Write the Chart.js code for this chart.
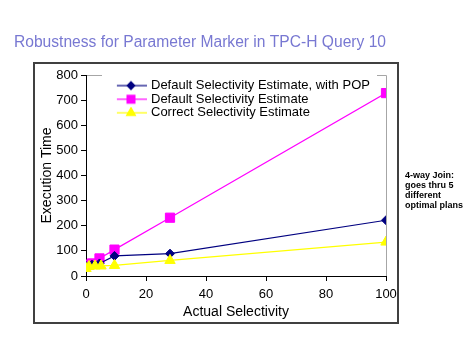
<!DOCTYPE html>
<html><head><meta charset="utf-8">
<script src="https://cdn.jsdelivr.net/npm/chart.js@4.4.1/dist/chart.umd.min.js"></script>
<style>html,body{margin:0;padding:0;background:#fff;overflow:hidden}#wrap{width:474px;height:355px;position:relative}</style>
</head><body><div id="wrap"><canvas id="c" width="474" height="355"></canvas></div>
<script>
const titleText = 'Robustness for Parameter Marker in TPC-H Query 10';
const xTitle = 'Actual Selectivity';
const yTitle = 'Execution Time';
const seriesNames = ['Default Selectivity Estimate, with POP', 'Default Selectivity Estimate', 'Correct Selectivity Estimate'];
const popX = [0, 2, 4.5, 9.5, 28, 100];
const popY = [40, 45, 50, 80, 89, 222];
const defX = [0, 2, 4.5, 9.5, 28, 100];
const defY = [45, 50, 70, 105, 232, 728];
const corX = [0, 1, 3, 5, 9.5, 28, 100];
const corY = [30, 38, 40, 40, 42, 62, 135];
const xTickStep = 20, xMin = 0, xMax = 100;
const yTickStep = 100, yMin = 0, yMax = 800;
const noteLines = ['4-way Join:', 'goes thru 5', 'different', 'optimal plans'];

const FONT = 'Liberation Sans, Arial, Helvetica, sans-serif';
const colors = ['#000080', '#ff00ff', '#ffff00'];
const styles = ['rectRot', 'rect', 'triangle'];
const radii = [4.5, 6.5, 6];

function pts(xs, ys) { return xs.map((x, i) => ({x: x, y: ys[i]})); }

function legendImage(i) {
  const cv = document.createElement('canvas');
  cv.width = 32; cv.height = 12;
  const c = cv.getContext('2d');
  c.strokeStyle = colors[i]; c.fillStyle = colors[i]; c.lineWidth = 1.2;
  c.beginPath(); c.moveTo(0, 6); c.lineTo(32, 6); c.stroke();
  Chart.helpers.drawPoint(c, {pointStyle: styles[i], radius: radii[i] * 0.85, borderWidth: 1}, 16, 6);
  c.fill();
  return cv;
}

const framePlugin = {
  id: 'frame',
  afterLayout(chart) {
    const lg = chart.legend;
    if (!lg) return;
    const dx = 116.9 - lg.left, dy = 78.5 - lg.top;
    lg.left += dx; lg.right += dx; lg.top += dy; lg.bottom += dy;
  },
  beforeDraw(chart) {
    const ctx = chart.ctx, a = chart.chartArea;
    ctx.save();
    ctx.strokeStyle = '#404040'; ctx.lineWidth = 2;
    ctx.strokeRect(34, 63, 364, 260);
    ctx.strokeStyle = '#a6a6a6'; ctx.lineWidth = 1;
    ctx.beginPath();
    ctx.moveTo(a.left, a.top + 0.5); ctx.lineTo(a.right + 0.5, a.top + 0.5); ctx.lineTo(a.right + 0.5, a.bottom);
    ctx.stroke();
    ctx.fillStyle = '#fff';
    ctx.fillRect(102, 70, 275, 50);
    ctx.fillStyle = '#000';
    ctx.font = 'bold 9px ' + FONT;
    ctx.textBaseline = 'middle'; ctx.textAlign = 'left';
    noteLines.forEach((t, i) => ctx.fillText(t, 405, 175.5 + i * 10));
    ctx.restore();
  }
};

const dsX = [popX, defX, corX], dsY = [popY, defY, corY];
const orders = [1, 2, 0];
const datasets = seriesNames.map((n, i) => ({
  label: n,
  data: pts(dsX[i], dsY[i]),
  borderColor: colors[i],
  backgroundColor: colors[i],
  borderWidth: 1.2,
  pointStyle: styles[i],
  pointRadius: radii[i],
  pointBorderWidth: 1,
  tension: 0,
  order: orders[i]
}));

new Chart(document.getElementById('c'), {
  type: 'line',
  data: {datasets: datasets},
  plugins: [framePlugin],
  options: {
    responsive: false,
    animation: false,
    devicePixelRatio: 1,
    layout: {padding: {left: 14, right: 88, top: 0, bottom: 32}},
    plugins: {
      title: {
        display: true, text: titleText, align: 'start', color: '#7878d2',
        font: {family: FONT, size: 16, weight: 'normal', lineHeight: 1.2},
        padding: {top: 33.4, bottom: 22.4}
      },
      legend: {
        display: true, position: 'chartArea', align: 'start',
        labels: {
          color: '#000', font: {family: FONT, size: 13}, padding: 0.6,
          usePointStyle: true, pointStyleWidth: 27,
          sort: (a, b) => a.datasetIndex - b.datasetIndex,
          generateLabels(chart) {
            const items = Chart.defaults.plugins.legend.labels.generateLabels(chart);
            items.forEach((it) => { it.pointStyle = legendImage(it.datasetIndex); });
            return items;
          }
        }
      },
      tooltip: {enabled: false}
    },
    scales: {
      x: {
        type: 'linear', min: xMin, max: xMax,
        afterFit(s) { s.height = 47; },
        ticks: {stepSize: xTickStep, color: '#000', font: {family: FONT, size: 13}, padding: 6, maxRotation: 0},
        grid: {drawOnChartArea: false, drawTicks: true, tickLength: 5, color: '#000'},
        border: {color: '#000', width: 1},
        title: {display: true, text: xTitle, color: '#000', font: {family: FONT, size: 14}, padding: {top: 0, bottom: 2.5}}
      },
      y: {
        type: 'linear', min: yMin, max: yMax,
        afterFit(s) { s.width = 72; },
        ticks: {stepSize: yTickStep, color: '#000', font: {family: FONT, size: 13}, padding: 3},
        grid: {drawOnChartArea: false, drawTicks: true, tickLength: 5, color: '#000'},
        border: {color: '#000', width: 1},
        title: {display: true, text: yTitle, color: '#000', font: {family: FONT, size: 14}, padding: {top: 24.6, bottom: 0}}
      }
    }
  }
});
</script></body></html>
